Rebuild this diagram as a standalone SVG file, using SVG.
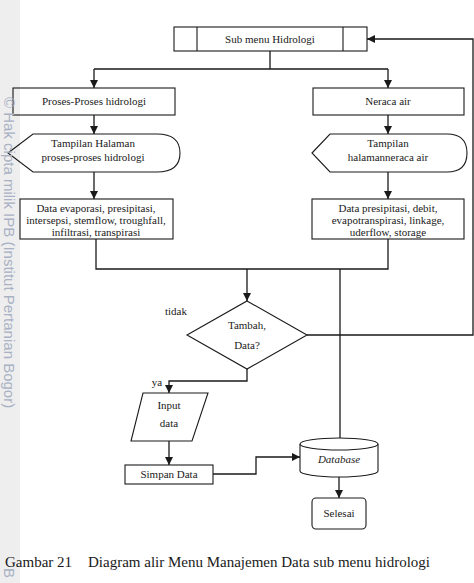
<svg xmlns="http://www.w3.org/2000/svg" width="474" height="583" viewBox="0 0 474 583">
<style>
.s{fill:#fff;stroke:#1a1a1a;stroke-width:1.1}
.t{font-family:"Liberation Serif","Times New Roman",serif;font-size:11px;fill:#1a1a1a;text-anchor:middle}
.c{fill:none;stroke:#1a1a1a;stroke-width:1.3}
.a{marker-end:url(#ah)}
.wm{font-family:"Liberation Sans",Arial,sans-serif;font-size:15px;fill:#a9b1c4}
.cap{font-family:"Liberation Serif","Times New Roman",serif;font-size:15px;fill:#1a1a1a}
</style>
<defs>
<marker id="ah" markerWidth="8" markerHeight="8" refX="8" refY="4" orient="auto" markerUnits="userSpaceOnUse">
<path d="M0,0 L8,4 L0,8 z" fill="#1a1a1a"/>
</marker>
</defs>
<rect width="474" height="583" fill="#fff"/>
<g id="connectors">
<path class="c" d="M270,51 V69 M94,69 H388"/>
<path class="c a" d="M94,69 V88"/>
<path class="c a" d="M388,69 V88"/>
<path class="c a" d="M94,115 V134"/>
<path class="c a" d="M388,115 V134"/>
<path class="c a" d="M94,172 V199"/>
<path class="c a" d="M388,172 V199"/>
<path class="c" d="M96,239 V269 H388 V239"/>
<path class="c a" d="M247,269 V301"/>
<path class="c" d="M340,269 V438"/>
<path class="c a" d="M307,335 H473 V39 H367"/>
<path class="c a" d="M247,369 V381 H169 V393"/>
<path class="c a" d="M169,441 V465"/>
<path class="c a" d="M213,474 H256 V457 H300"/>
<path class="c a" d="M339,477 V498"/>
</g>
<g id="submenu">
<rect class="s" x="174" y="27" width="193" height="24"/>
<path class="s" d="M197,27 V51 M343,27 V51"/>
<text class="t" x="270" y="43">Sub menu Hidrologi</text>
</g>
<g id="proses">
<rect class="s" x="13" y="88" width="162" height="27"/>
<text class="t" x="94" y="105">Proses-Proses hidrologi</text>
</g>
<g id="neraca">
<rect class="s" x="313" y="88" width="151" height="27"/>
<text class="t" x="388" y="105">Neraca air</text>
</g>
<g id="tampilan-proses">
<path class="s" d="M8,153 L33,134 L157,134 Q180,134 180,153 Q180,172 157,172 L33,172 Z"/>
<text class="t" x="93" y="147">Tampilan Halaman</text>
<text class="t" x="93" y="161">proses-proses hidrologi</text>
</g>
<g id="tampilan-neraca">
<path class="s" d="M312,153 L330,134 L447,134 Q467,134 467,153 Q467,172 447,172 L330,172 Z"/>
<text class="t" x="388" y="147">Tampilan</text>
<text class="t" x="388" y="161">halamanneraca air</text>
</g>
<g id="data-proses">
<rect class="s" x="20" y="199" width="153" height="40"/>
<text class="t" x="96" y="212">Data evaporasi, presipitasi,</text>
<text class="t" x="96" y="224">intersepsi, stemflow, troughfall,</text>
<text class="t" x="96" y="236">infiltrasi, transpirasi</text>
</g>
<g id="data-neraca">
<rect class="s" x="312" y="199" width="152" height="40"/>
<text class="t" x="388" y="212">Data presipitasi, debit,</text>
<text class="t" x="388" y="224">evapotranspirasi, linkage,</text>
<text class="t" x="388" y="236">uderflow, storage</text>
</g>
<g id="decision">
<path class="s" d="M247,301 L307,335 L247,369 L187,335 Z"/>
<text class="t" x="247" y="329">Tambah,</text>
<text class="t" x="247" y="349">Data?</text>
<text class="t" x="176" y="315">tidak</text>
<text class="t" x="157" y="386">ya</text>
</g>
<g id="input">
<path class="s" d="M143,393 L208,393 L192,441 L131,441 Z"/>
<text class="t" x="169" y="409">Input</text>
<text class="t" x="169" y="427">data</text>
</g>
<g id="simpan">
<rect class="s" x="125" y="465" width="88" height="19"/>
<text class="t" x="169" y="478">Simpan Data</text>
</g>
<g id="database">
<path class="s" d="M300,444 V471 A39,6 0 0 0 378,471 V444"/>
<ellipse class="s" cx="339" cy="444" rx="39" ry="6"/>
<text class="t" x="339" y="463" font-style="italic">Database</text>
</g>
<g id="selesai">
<rect class="s" x="312" y="498" width="54" height="31" rx="4"/>
<text class="t" x="339" y="517">Selesai</text>
</g>
<g id="caption">
<text class="cap" x="5" y="567">Gambar 21</text>
<text class="cap" x="88" y="567">Diagram alir Menu Manajemen Data sub menu hidrologi</text>
</g>
<rect x="0" y="0" width="20" height="583" fill="#000" fill-opacity="0.065"/>
<g id="watermark">
<text class="wm" transform="translate(4,97) rotate(90)">© Hak cipta milik IPB (Institut Pertanian Bogor)</text>
<text class="wm" transform="translate(4,568) rotate(90)">B</text>
</g>
</svg>
